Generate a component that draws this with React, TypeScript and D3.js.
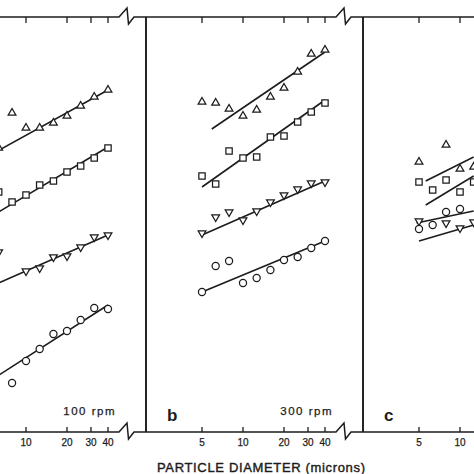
import React from "react";
import * as d3 from "d3";

// particle diameters (microns) where each size fraction was measured
const diameters = [5, 6.3, 7.9, 10, 12.6, 15.9, 20, 25.2, 31.7, 40];
const xTicks = [5, 10, 20, 30, 40];

// relative values (arbitrary units), null = not visible / not measured
// panel a, 100 rpm
const triUp100 = [280, 284, 319, 304, 304, 309, 316, 326, 335, 342];
const square100 = [225, 240, 230, 237, 247, 251, 260, 266, 274, 284];
const triDown100 = [145, 180, null, 161, 164, 175, 176, 185, 195, 197];
const circle100 = [null, null, 49, 71, 83, 98, 101, 112, 124, 123];
// fitted lines: [x0, y0, x1, y1]
const fit100 = [
	[5, 274, 40, 342],
	[5, 212, 40, 285],
	[5, 143, 40, 197],
	[5, 48, 40, 127],
];

// panel b, 300 rpm
const triUp300 = [330, 329, 323, 316, 322, 335, 344, 360, 378, 382];
const square300 = [256, 248, 281, 274, 275, 295, 296, 310, 320, 329];
const triDown300 = [199, 215, 220, 212, 221, 230, 237, 243, 249, 250];
const circle300 = [140, 166, 171, 149, 154, 162, 172, 175, 184, 191];
const fit300 = [
	[5.9, 303, 40, 380],
	[5, 245, 40, 332],
	[5, 197, 40, 251],
	[5, 140, 40, 191],
];

// panel c (mostly cut off on the right)
const triUpC = [270, null, 287, 263, 265, null, null, null, null, null];
const squareC = [250, 242, 252, 240, 250, null, null, null, null, null];
const triDownC = [211, null, 209, 204, 210, null, null, null, null, null];
const circleC = [203, 207, 220, 223, null, null, null, null, null, null];
const fitC = [
	[5.6, 251, 12.6, 275],
	[5.6, 227, 12.6, 256],
	[4.8, 209, 12.6, 221],
	[5, 191, 12.6, 207],
];

const markers = ["triUp", "square", "triDown", "circle"];

const panels = [
	{ left: -71, letter: "", rpm: "100 rpm", series: [triUp100, square100, triDown100, circle100], fits: fit100 },
	{ left: 146, letter: "b", rpm: "300 rpm", series: [triUp300, square300, triDown300, circle300], fits: fit300 },
	{ left: 363, letter: "c", rpm: "", series: [triUpC, squareC, triDownC, circleC], fits: fitC },
];

const W = 474;
const H = 474;
const top = 17;
const bottom = 432;
const panelW = 217;
const ink = "#1c1c1c";
const font = "Liberation Sans, Arial, sans-serif";

const y = d3.scaleLinear().domain([0, 415]).range([bottom, top]);

const symbolPath = (kind: string) => {
	if (kind === "square") return d3.symbol(d3.symbolSquare, 40)();
	if (kind === "circle") return d3.symbol(d3.symbolCircle, 40)();
	return d3.symbol(d3.symbolTriangle, 26)();
};

function breakPath(x0: number, x1: number, yy: number, bx: number) {
	// axis line with a break mark
	return `M${x0},${yy}L${bx - 8},${yy}L${bx},${yy - 9}L${bx + 1.5},${yy + 7}L${bx + 7},${yy}L${x1},${yy}`;
}

function Panel({ p, idx }: { p: any; idx: number }) {
	const x = d3.scaleLog().domain([5, 40]).range([p.left + 56, p.left + 179]);
	const right = p.left + panelW;
	const bx = right - 19;
	const clipId = `clip${idx}`;
	return (
		<g>
			<clipPath id={clipId}>
				<rect x={p.left} y={top} width={panelW} height={bottom - top} />
			</clipPath>
			<path d={breakPath(p.left, right, top, bx)} fill="none" stroke={ink} strokeWidth={1.5} />
			<path d={breakPath(p.left, right, bottom, bx)} fill="none" stroke={ink} strokeWidth={1.5} />
			<line x1={p.left} x2={p.left} y1={top} y2={bottom} stroke={ink} strokeWidth={1.6} />
			<line x1={right} x2={right} y1={top} y2={bottom} stroke={ink} strokeWidth={1.6} />
			{xTicks.map((t) => (
				<g key={t}>
					<line x1={x(t)} x2={x(t)} y1={top} y2={top + 6} stroke={ink} strokeWidth={1.3} />
					<line x1={x(t)} x2={x(t)} y1={bottom} y2={bottom - 5} stroke={ink} strokeWidth={1.3} />
					{x(t) > 0 && x(t) < W ? (
						<text x={x(t)} y={446} textAnchor="middle" fontSize={10} fill={ink} stroke={ink} strokeWidth={0.25} fontFamily={font}>
							{t}
						</text>
					) : null}
				</g>
			))}
			<g clipPath={`url(#${clipId})`}>
				{p.fits.map((f: number[], i: number) => (
					<line key={i} x1={x(f[0])} y1={y(f[1])} x2={x(f[2])} y2={y(f[3])} stroke={ink} strokeWidth={1.6} />
				))}
				{p.series.map((vals: (number | null)[], si: number) =>
					vals.map((v, i) =>
						v == null ? null : (
							<path
								key={`${si}-${i}`}
								d={symbolPath(markers[si]) as string}
								transform={`translate(${x(diameters[i])},${y(v)})${markers[si] === "triDown" ? " rotate(180)" : ""}`}
								fill="white"
								stroke={ink}
								strokeWidth={1.25}
							/>
						),
					),
				)}
			</g>
			{p.rpm ? (
				<text x={right - 30} y={415} textAnchor="end" fontSize={11.5} letterSpacing={1.5} fill={ink} stroke={ink} strokeWidth={0.25} fontFamily={font}>
					{p.rpm}
				</text>
			) : null}
			{p.letter ? (
				<text x={p.left + 21} y={421} fontSize={17} fontWeight="bold" fill={ink} fontFamily={font}>
					{p.letter}
				</text>
			) : null}
		</g>
	);
}

export default function App() {
	return (
		<svg width={W} height={H} style={{ position: "absolute", left: 0, top: 0, background: "white" }}>
			<rect width={W} height={H} fill="white" />
			{panels.map((p, i) => (
				<Panel key={i} p={p} idx={i} />
			))}
			<text
				x={261}
				y={472}
				textAnchor="middle"
				fontSize={13}
				textLength={208}
				lengthAdjust="spacing"
				fill={ink}
				stroke={ink}
				strokeWidth={0.4}
				fontFamily={font}
			>
				PARTICLE DIAMETER (microns)
			</text>
		</svg>
	);
}
